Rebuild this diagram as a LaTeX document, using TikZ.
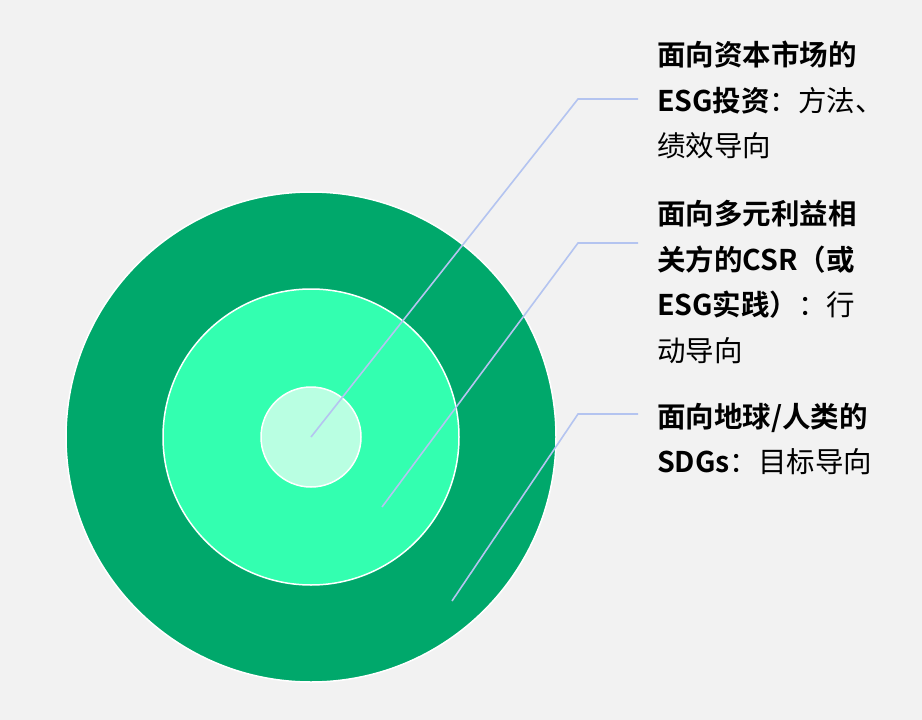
\documentclass[tikz,border=0pt]{standalone}
\usepackage{fontspec}
\setmainfont{Noto Sans CJK SC}[BoldFont={Noto Sans CJK SC Bold}]
\usepackage{tikz}
\definecolor{bgGray}{RGB}{242,242,242}
\definecolor{ringOuter}{RGB}{0,168,107}
\definecolor{ringMid}{RGB}{51,255,176}
\definecolor{ringInner}{RGB}{185,255,226}
\definecolor{leader}{RGB}{180,196,240}
\tikzset{
  ring/.style={draw=white, line width=1.5pt},
  leaderline/.style={draw=leader, line width=1.6pt},
  label/.style={anchor=north west, inner sep=0pt, align=left,
    font=\fontsize{28.5}{45.5}\selectfont}
}

\begin{document}
\begin{tikzpicture}[x=1pt,y=-1pt]
    % Background
    \fill[bgGray] (0,0) rectangle (922,720);
    \useasboundingbox (0,0) rectangle (922,720);
    % Rings
    \draw[ring, fill=ringOuter] (311,437) circle (245);
    \draw[ring, fill=ringMid] (311,437) circle (148);
    \draw[ring, fill=ringInner] (311,437) circle (50);
    % Labels
    \node[label] (esg) at (657,41) {\textbf{面向资本市场的}\\\textbf{ESG投资}：方法、\\绩效导向};
    \node[label] (csr) at (657,200) {\textbf{面向多元利益相}\\\textbf{关方的CSR（或}\\\textbf{ESG实践）}：行\\动导向};
    \node[label] (sdg) at (657,403) {\textbf{面向地球/人类的}\\\textbf{SDGs}：目标导向};
    % Leader points
    \coordinate (esg-in) at (311,437);
    \coordinate (esg-knee) at (578,99);
    \coordinate (esg-end) at (638,99);
    \coordinate (csr-in) at (382,507);
    \coordinate (csr-knee) at (578,243);
    \coordinate (csr-end) at (638,243);
    \coordinate (sdg-in) at (452,601);
    \coordinate (sdg-knee) at (578,414);
    \coordinate (sdg-end) at (638,414);
    % Leaders
    \draw[leaderline] (esg-in) -- (esg-knee) -- (esg-end);
    \draw[leaderline] (csr-in) -- (csr-knee) -- (csr-end);
    \draw[leaderline] (sdg-in) -- (sdg-knee) -- (sdg-end);
\end{tikzpicture}
\end{document}
